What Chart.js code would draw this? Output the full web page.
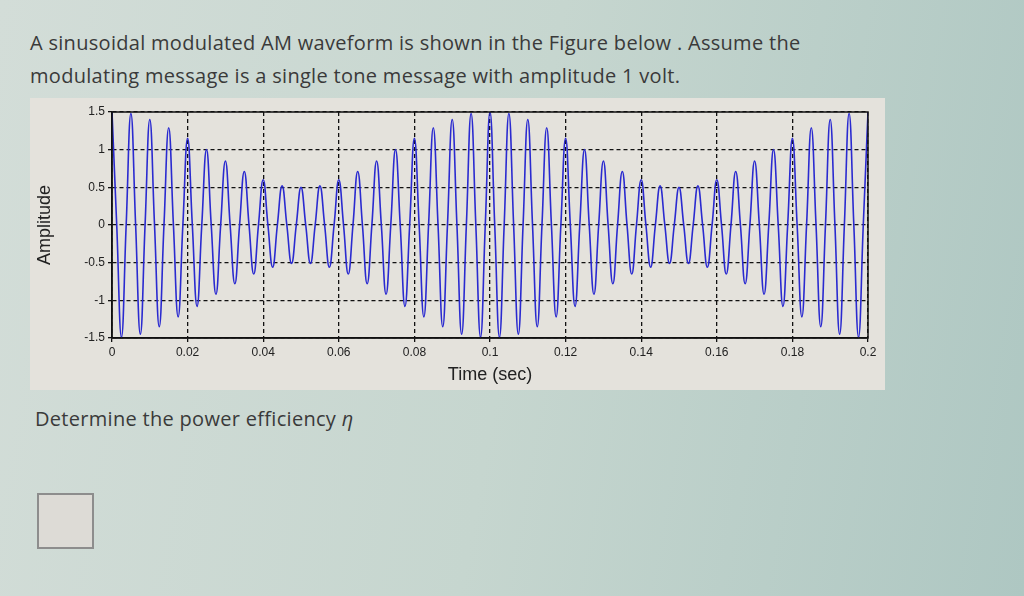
<!DOCTYPE html>
<html><head><meta charset="utf-8">
<script src="https://cdn.jsdelivr.net/npm/chart.js@4/dist/chart.umd.min.js"></script>
<style>
body{margin:0;width:1024px;height:596px;overflow:hidden;background:linear-gradient(100deg,#d3ddd8 0%,#c6d6cf 50%,#aec7c2 100%);font-family:"Open Sans",Lato,sans-serif;position:relative}
.q{position:absolute;left:30px;top:26px;font-size:20px;color:#3a3a3a;line-height:33px;letter-spacing:0.3px}
.d{position:absolute;left:35px;top:405px;font-size:20px;color:#3a3a3a;letter-spacing:0.3px}
.box{position:absolute;left:37px;top:493px;width:57px;height:56px;background:#dddbd6;border:2px solid #8d8d8d;box-sizing:border-box}
#wrap{position:absolute;left:30px;top:98px;width:855px;height:292px;background:#e4e2dc}
</style></head><body>
<div class="q">A sinusoidal modulated AM waveform is shown in the Figure below . Assume the<br>modulating message is a single tone message with amplitude 1 volt.</div>
<div id="wrap"><canvas id="c"></canvas></div>
<div class="d">Determine the power efficiency <i>η</i></div>
<div class="box"></div>
<script>
// carrier peak values (at t = 0, 0.005, ..., 0.2)
const peakValues=[1.5,1.48,1.4,1.29,1.15,1.0,0.85,0.71,0.6,0.52,0.5,0.52,0.6,0.71,0.85,1.0,1.15,1.29,1.4,1.48,
                  1.5,1.48,1.4,1.29,1.15,1.0,0.85,0.71,0.6,0.52,0.5,0.52,0.6,0.71,0.85,1.0,1.15,1.29,1.4,1.48,1.5];
// carrier trough values (at t = 0.0025, 0.0075, ...)
const troughValues=[-1.49,-1.45,-1.35,-1.22,-1.08,-0.92,-0.78,-0.65,-0.56,-0.51,-0.51,-0.56,-0.65,-0.78,-0.92,-1.08,-1.22,-1.35,-1.45,-1.49,
                    -1.49,-1.45,-1.35,-1.22,-1.08,-0.92,-0.78,-0.65,-0.56,-0.51,-0.51,-0.56,-0.65,-0.78,-0.92,-1.08,-1.22,-1.35,-1.45,-1.49];
const halfPeriod=0.0025;
const xTicks=[0,0.02,0.04,0.06,0.08,0.1,0.12,0.14,0.16,0.18,0.2];
const yTicks=[-1.5,-1,-0.5,0,0.5,1,1.5];
const pts=[];
for(let i=0;i<troughValues.length;i++){
  const t0=i*2*halfPeriod;
  pts.push({x:t0,y:peakValues[i]});
  pts.push({x:t0+halfPeriod/2,y:0});
  pts.push({x:t0+halfPeriod,y:troughValues[i]});
  pts.push({x:t0+halfPeriod*1.5,y:0});
}
pts.push({x:0.2,y:peakValues[40]});
const box={id:'box',afterDraw(c){const a=c.chartArea,x=c.ctx;x.save();x.strokeStyle='#111';x.lineWidth=1.5;x.strokeRect(a.left,a.top,a.right-a.left,a.bottom-a.top);x.restore();}};
new Chart(document.getElementById('c'),{type:'line',
data:{datasets:[{data:pts,borderColor:'#2a2ad0',borderWidth:1.6,pointRadius:0,tension:0.45,fill:false}]},
options:{responsive:true,maintainAspectRatio:false,animation:false,
layout:{padding:{top:14,right:17}},
plugins:{legend:{display:false},tooltip:{enabled:false}},
scales:{
x:{type:'linear',min:0,max:0.2,afterBuildTicks:a=>{a.ticks=xTicks.map(v=>({value:v}))},
afterFit:a=>{a.height=52},
grid:{color:'#111',lineWidth:1.3,tickLength:4},border:{display:true,color:'#111',width:1.5,dash:[4,3]},
ticks:{color:'#222',font:{size:12,family:'Liberation Sans'},maxRotation:0,callback:v=>String(v)},
title:{display:true,text:'Time (sec)',color:'#222',font:{size:18,family:'Liberation Sans'},padding:{top:-2}}},
y:{min:-1.5,max:1.5,afterBuildTicks:a=>{a.ticks=yTicks.map(v=>({value:v}))},
afterFit:a=>{a.width=82},
grid:{color:'#111',lineWidth:1.3,tickLength:4},border:{display:true,color:'#111',width:1.5,dash:[4,3]},
ticks:{color:'#222',font:{size:12,family:'Liberation Sans'},callback:v=>String(v)},
title:{display:true,text:'Amplitude',color:'#222',font:{size:18,family:'Liberation Sans'}}}
}},
plugins:[box]
});
</script>
</body></html>
